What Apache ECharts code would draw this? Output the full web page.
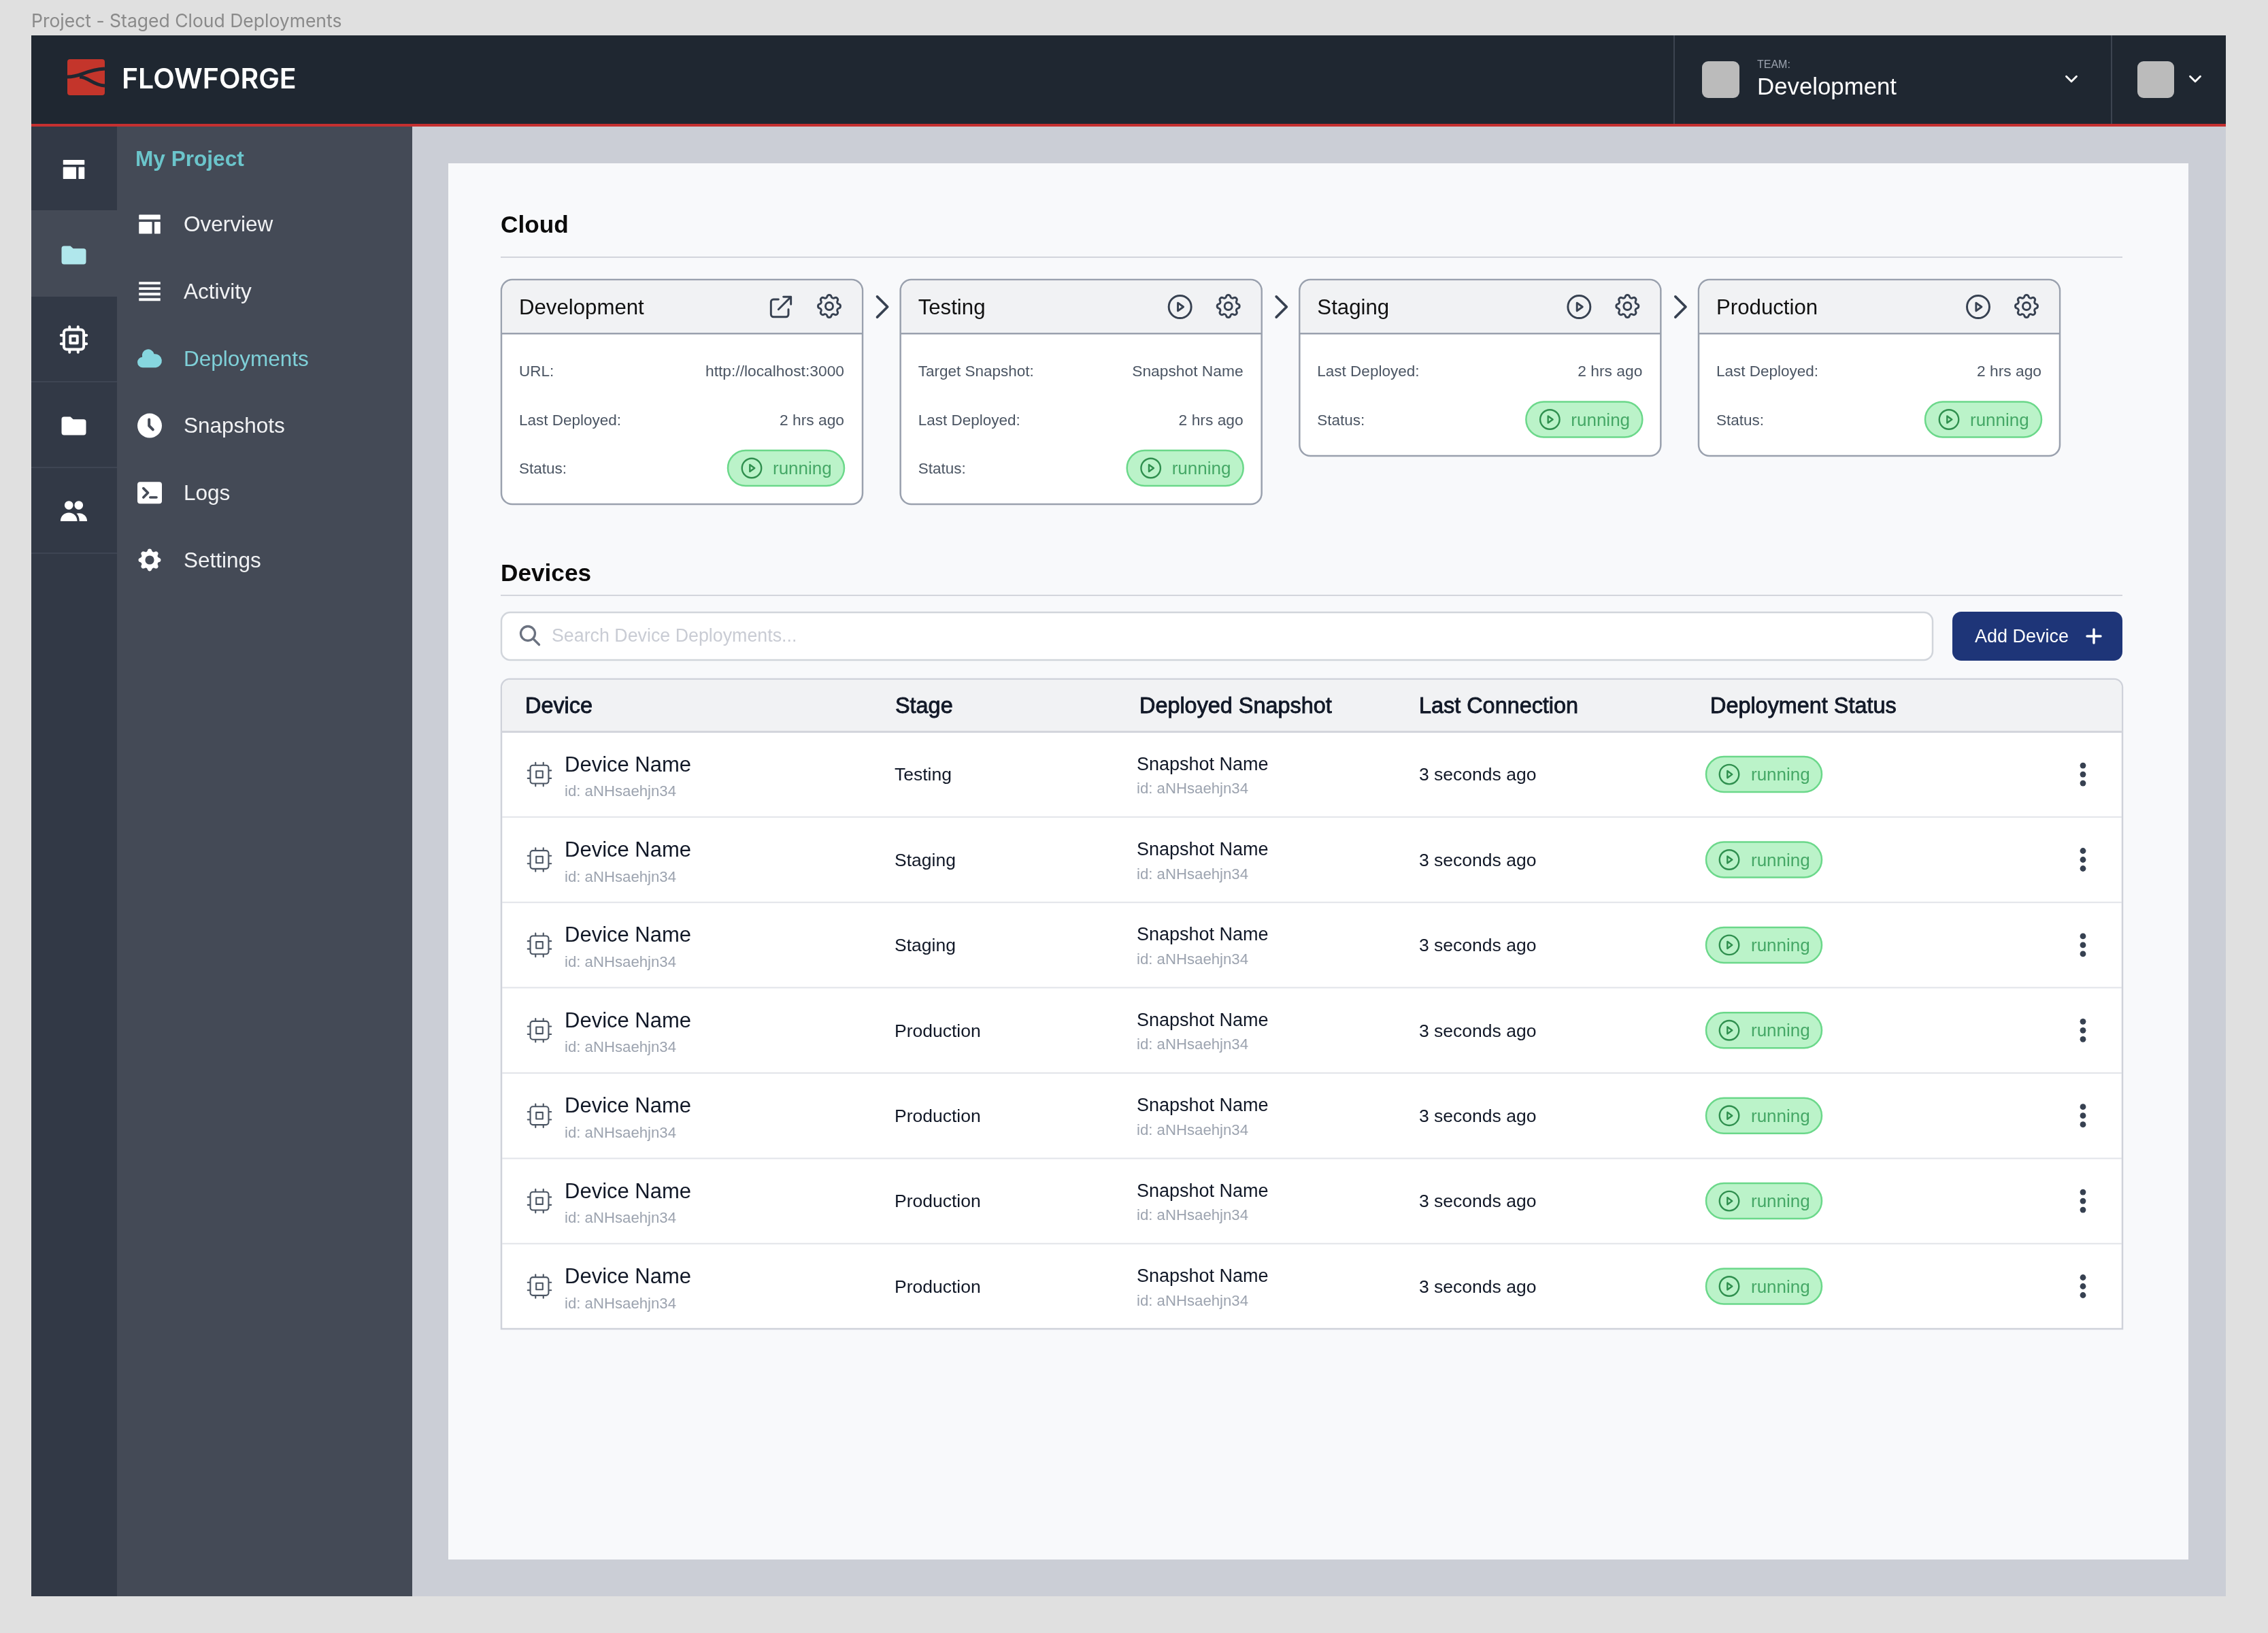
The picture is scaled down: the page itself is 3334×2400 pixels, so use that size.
<!DOCTYPE html>
<html>
<head>
<meta charset="utf-8">
<title>FlowForge - Staged Cloud Deployments</title>
<script src="https://cdn.jsdelivr.net/npm/echarts@6/dist/echarts.min.js"></script>
<style>
  html, body { margin: 0; padding: 0; background: #e0e0e0; }
  #main { width: 3334px; height: 2400px; }
</style>
</head>
<body>
<div id="main"></div>
<script>
// text content
var pageTitle = 'Project - Staged Cloud Deployments';
var brandName = 'FLOWFORGE';
var projectName = 'My Project';
var teamLabel = 'TEAM:';
var teamName = 'Development';
var navItems = ['Overview', 'Activity', 'Deployments', 'Snapshots', 'Logs', 'Settings'];
var navIcons = ['template', 'activity', 'cloud', 'clock', 'terminal', 'cog'];
var railIcons = ['template', 'folder', 'chip', 'folder', 'users'];

var stageNames = ['Development', 'Testing', 'Staging', 'Production'];
var stageActions = ['external', 'play', 'play', 'play'];
var stageRowLabels = [
    ['URL:', 'Last Deployed:', 'Status:'],
    ['Target Snapshot:', 'Last Deployed:', 'Status:'],
    ['Last Deployed:', 'Status:'],
    ['Last Deployed:', 'Status:']
];
var stageRowValues = [
    ['http://localhost:3000', '2 hrs ago', 'running'],
    ['Snapshot Name', '2 hrs ago', 'running'],
    ['2 hrs ago', 'running'],
    ['2 hrs ago', 'running']
];

var tableColumns = ['Device', 'Stage', 'Deployed Snapshot', 'Last Connection', 'Deployment Status'];
var deviceNames = ['Device Name', 'Device Name', 'Device Name', 'Device Name', 'Device Name', 'Device Name', 'Device Name'];
var deviceIds = ['id: aNHsaehjn34', 'id: aNHsaehjn34', 'id: aNHsaehjn34', 'id: aNHsaehjn34', 'id: aNHsaehjn34', 'id: aNHsaehjn34', 'id: aNHsaehjn34'];
var deviceStages = ['Testing', 'Staging', 'Staging', 'Production', 'Production', 'Production', 'Production'];
var deviceSnapshots = ['Snapshot Name', 'Snapshot Name', 'Snapshot Name', 'Snapshot Name', 'Snapshot Name', 'Snapshot Name', 'Snapshot Name'];
var snapshotIds = ['id: aNHsaehjn34', 'id: aNHsaehjn34', 'id: aNHsaehjn34', 'id: aNHsaehjn34', 'id: aNHsaehjn34', 'id: aNHsaehjn34', 'id: aNHsaehjn34'];
var deviceConnections = ['3 seconds ago', '3 seconds ago', '3 seconds ago', '3 seconds ago', '3 seconds ago', '3 seconds ago', '3 seconds ago'];
var deviceStatuses = ['running', 'running', 'running', 'running', 'running', 'running', 'running'];

var FONT = '"Liberation Sans"';
var NAV_BG = '#444a56';
var RAIL_BG = '#323946';
var HEAD_BG = '#1f2731';

// icon outlines, 24 unit box (zrender wants arc flags spaced out)
var COG = 'M10.325 4.317c.426-1.756 2.924-1.756 3.35 0a1.724 1.724 0 0 0 2.573 1.066c1.543-.94 3.31.826 2.37 2.37a1.724 1.724 0 0 0 1.065 2.572c1.756.426 1.756 2.924 0 3.35a1.724 1.724 0 0 0-1.066 2.573c.94 1.543-.826 3.31-2.37 2.37a1.724 1.724 0 0 0-2.572 1.065c-.426 1.756-2.924 1.756-3.35 0a1.724 1.724 0 0 0-2.573-1.066c-1.543.94-3.31-.826-2.37-2.37a1.724 1.724 0 0 0-1.065-2.572c-1.756-.426-1.756-2.924 0-3.35a1.724 1.724 0 0 0 1.066-2.573c-.94-1.543.826-3.31 2.37-2.37.996.608 2.296.07 2.572-1.065z';
var RING = 'M21 12a9 9 0 1 1-18 0 9 9 0 0 1 18 0z';
var CHIP = 'M7 5h10a2 2 0 0 1 2 2v10a2 2 0 0 1-2 2H7a2 2 0 0 1-2-2V7a2 2 0 0 1 2-2zM9.5 9.5h5v5h-5zM9 3v2M15 3v2M9 19v2M15 19v2M3 9h2M3 15h2M19 9h2M19 15h2';
var TEMPLATE = 'M3.5 4h17a.5.5 0 0 1 .5.5v3a.5.5 0 0 1-.5.5h-17a.5.5 0 0 1-.5-.5v-3a.5.5 0 0 1 .5-.5zM3.5 10h10a.5.5 0 0 1 .5.5v9a.5.5 0 0 1-.5.5h-10a.5.5 0 0 1-.5-.5v-9a.5.5 0 0 1 .5-.5zM16.5 10h4a.5.5 0 0 1 .5.5v9a.5.5 0 0 1-.5.5h-4a.5.5 0 0 1-.5-.5v-9a.5.5 0 0 1 .5-.5z';
var FOLDER = 'M2 7a2 2 0 0 1 2-2h5.2l2.3 2.2H20a2 2 0 0 1 2 2V18a2 2 0 0 1-2 2H4a2 2 0 0 1-2-2z';
var ACTIVITY = 'M3 4h18v2.2H3zM3 8.6h18v2.2H3zM3 13.2h18v2.2H3zM3 17.8h18v2.2H3z';
var CLOUD = 'M6.6 19.2a4.2 4.2 0 0 1-.44-8.38 4.8 4.8 0 1 1 9.3-2.37A5.4 5.4 0 1 1 16.2 19.2h-9.6z';
var USERS_A = 'M11.5 7.5a3.4 3.4 0 1 1-6.8 0 3.4 3.4 0 0 1 6.8 0zM19.3 7.5a3.4 3.4 0 1 1-6.8 0 3.4 3.4 0 0 1 6.8 0zM1.5 20c0-3.8 2.9-6.6 6.6-6.6s6.6 2.8 6.6 6.6zM16.4 20c0-2.6-.8-4.7-2.3-6 .6-.2 1.2-.3 1.9-.3 3.7 0 6.5 2.6 6.5 6.3z';

function icon(path, cx, cy, size, style) {
    var k = size / 24;
    return {
        type: 'path',
        shape: { pathData: path },
        x: cx - size / 2,
        y: cy - size / 2,
        scaleX: k,
        scaleY: k,
        style: style
    };
}
function fillIcon(path, cx, cy, size, color) {
    return icon(path, cx, cy, size, { fill: color });
}
function lineIcon(path, cx, cy, size, color, width) {
    return icon(path, cx, cy, size, { fill: 'none', stroke: color, lineWidth: width, lineCap: 'round', lineJoin: 'round' });
}
function label(text, x, y, size, color, weight, align, family) {
    return {
        type: 'text',
        style: {
            text: text, x: x, y: y,
            fontFamily: family || FONT, fontSize: size, fontWeight: weight || 400,
            fill: color, align: align || 'left', verticalAlign: 'middle'
        }
    };
}
// the column heads sit between regular and bold, so thicken the regular cut a little
function mediumLabel(text, x, y, size, color) {
    var el = label(text, x, y, size, color);
    el.style.stroke = color;
    el.style.lineWidth = 0.9;
    return el;
}
function box(x, y, w, h, fill, r, stroke, lw) {
    return {
        type: 'rect',
        shape: { x: x, y: y, width: w, height: h, r: r || 0 },
        style: { fill: fill, stroke: stroke || null, lineWidth: lw || 0 }
    };
}
function stroke(x1, y1, x2, y2, color, lw) {
    return {
        type: 'line',
        shape: { x1: x1, y1: y1, x2: x2, y2: y2 },
        style: { stroke: color, lineWidth: lw || 2 }
    };
}

function namedIcon(name, cx, cy, size, color, bg) {
    if (name === 'template') return [fillIcon(TEMPLATE, cx, cy, size * 1.05, color)];
    if (name === 'folder') return [fillIcon(FOLDER, cx, cy, size * 1.08, color)];
    if (name === 'activity') return [fillIcon(ACTIVITY, cx, cy, size * 1.05, color)];
    if (name === 'cloud') return [fillIcon(CLOUD, cx, cy, size * 1.12, color)];
    if (name === 'users') return [fillIcon(USERS_A, cx, cy, size * 1.12, color)];
    if (name === 'chip') return [lineIcon(CHIP, cx, cy, size * 1.25, color, 1.9)];
    if (name === 'clock') {
        return [
            fillIcon(RING, cx, cy, size * 1.2, color),
            lineIcon('M11.5 6.5v5.6l3.4 3.4', cx, cy, size, bg, 2.4)
        ];
    }
    if (name === 'terminal') {
        return [
            box(cx - 18, cy - 16, 36, 32, color, 4),
            lineIcon('M6.5 8l4 4-4 4M12.5 16h5.5', cx, cy, size, bg, 2.2)
        ];
    }
    if (name === 'cog') {
        return [
            fillIcon(COG, cx, cy, size * 1.1, color),
            fillIcon('M15.6 12a3.6 3.6 0 1 1-7.2 0 3.6 3.6 0 0 1 7.2 0z', cx, cy, size * 1.1, bg)
        ];
    }
    return [];
}

function runningBadge(x, y, w, h, playX, textX, fontSize) {
    return [
        box(x, y, w, h, '#bbf3c9', h / 2, '#6bd88a', 2.5),
        lineIcon(RING, playX, y + h / 2, 38, '#2f8f4e', 1.5),
        lineIcon('M10.3 8.8l4.4 3.2-4.4 3.2z', playX, y + h / 2, 38, '#2f8f4e', 1.5),
        label('running', textX, y + h / 2 + 2, fontSize, '#45a866')
    ];
}

// page chrome
function buildChrome() {
    var els = [
        box(0, 0, 3334, 2400, '#e0e0e0'),
        label(pageTitle, 46, 32, 26.5, '#8a8a8a', 400, 'left', 'Inter'),
        box(46, 52, 3226, 2294, '#cbced6'),
        box(46, 52, 3226, 130, HEAD_BG),
        box(46, 182, 3226, 4, '#c53030'),
        box(46, 186, 126, 2160, RAIL_BG),
        box(172, 186, 434, 2160, NAV_BG),
        box(46, 309, 126, 127, NAV_BG),
        box(46, 560, 126, 2, '#3e4553'),
        box(46, 686, 126, 2, '#3e4553'),
        box(46, 812, 126, 2, '#3e4553'),
        box(659, 240, 2558, 2052, '#f8f9fb'),

        // logo
        box(99, 87, 55, 53, '#c4352b', 4),
        {
            type: 'path',
            shape: { pathData: 'M99 113C120 113 124 103 154 101M117 113C130 113 136 125 154 126' },
            style: { fill: 'none', stroke: HEAD_BG, lineWidth: 5 }
        },
        label(brandName, 179, 118, 41, '#ffffff', 600, 'left', 'Inter'),

        // team and user switchers
        stroke(2461, 52, 2461, 182, '#3c4450', 2),
        stroke(3104, 52, 3104, 182, '#3c4450', 2),
        box(2502, 90, 55, 54, '#bbbbbb', 9),
        box(3142, 90, 54, 54, '#bbbbbb', 9),
        label(teamLabel, 2583, 96, 16, '#9ca3af'),
        label(teamName, 2583, 129, 34.8, '#ffffff'),
        lineIcon('M6 9l6 6 6-6', 3045, 116, 30, '#ffffff', 2.3),
        lineIcon('M6 9l6 6 6-6', 3227, 116, 30, '#ffffff', 2.3),

        // side navigation
        label(projectName, 199, 235, 31.6, '#6bc5cb', 700),

        // section headers
        label('Cloud', 736, 332, 35.2, '#0b0b0b', 700),
        box(736, 377, 2384, 2, '#d3d5dc'),
        label('Devices', 736, 844, 35.2, '#0b0b0b', 700),
        box(736, 874, 2384, 2, '#d3d5dc'),

        // search and add
        box(737, 900, 2104, 70, '#ffffff', 13, '#d1d5db', 2.5),
        lineIcon('M21 21l-6-6M17 10a7 7 0 1 1-14 0 7 7 0 0 1 14 0z', 779, 934, 36, '#6b7280', 2.2),
        label('Search Device Deployments...', 811, 936, 26.8, '#c9ccd4'),
        box(2870, 899, 250, 72, '#1e3578', 13),
        label('Add Device', 2903, 937, 27, '#ffffff'),
        lineIcon('M12 4v16M4 12h16', 3078, 935, 30, '#ffffff', 2.8),

        // table frame and header
        box(737, 998, 2383, 955, '#ffffff', [12, 12, 0, 0], '#cfd2da', 2.5),
        box(738, 999, 2381, 76, '#f1f2f4', [12, 12, 0, 0]),
        box(737, 1074, 2383, 3, '#d3d5dc')
    ];

    var railY = [249, 374, 499, 625, 751];
    railIcons.forEach(function (name, i) {
        var color = i === 1 ? '#b0e7ec' : '#ffffff';
        var bg = i === 1 ? NAV_BG : RAIL_BG;
        els = els.concat(namedIcon(name, 108.5, railY[i], 40, color, bg));
    });
    navItems.forEach(function (name, i) {
        var y = 329.5 + i * 98.7;
        var color = name === 'Deployments' ? '#86d6df' : '#ffffff';
        els = els.concat(namedIcon(navIcons[i], 220, y, 40, color, NAV_BG));
        els.push(label(name, 270, y + 2, 31.5, name === 'Deployments' ? '#7fd0d8' : '#f1f2f4'));
    });

    var headerX = [772, 1316, 1675, 2086, 2514];
    tableColumns.forEach(function (name, i) {
        els.push(mediumLabel(name, headerX[i], 1039, 32.4, '#111827'));
    });
    return els;
}

function renderChrome() {
    return { type: 'group', children: buildChrome() };
}

// one card per stage, placed by the stage axis
function renderStageCard(params, api) {
    var i = params.dataIndex;
    var cx = api.coord([i, 0])[0];
    var left = cx - 265.5;
    var top = 411;
    var rows = stageRowLabels[i];
    var bottom = rows.length === 3 ? 741 : 670;
    var right = left + 531;
    var kids = [
        box(left, top, 531, bottom - top, '#ffffff', 16, '#9aa1ae', 2.5),
        {
            type: 'rect',
            shape: { x: left + 1.5, y: top + 1.5, width: 528, height: 77, r: [15, 15, 0, 0] },
            style: { fill: '#f1f2f4' }
        },
        box(left, 489, 531, 2.5, '#9aa1ae'),
        label(stageNames[i], left + 26, 453, 31.2, '#111111')
    ];
    if (stageActions[i] === 'external') {
        kids.push(lineIcon('M10 6H6a2 2 0 0 0-2 2v10a2 2 0 0 0 2 2h10a2 2 0 0 0 2-2v-4M14 4h6m0 0v6m0-6L10 14', left + 411, 451, 44, '#374151', 1.6));
    } else {
        kids.push(lineIcon(RING, left + 411, 451, 44, '#374151', 1.6));
        kids.push(lineIcon('M10.3 8.8l4.4 3.2-4.4 3.2z', left + 411, 451, 44, '#374151', 1.6));
    }
    kids.push(lineIcon(COG, left + 482, 450, 44, '#374151', 1.6));
    kids.push(lineIcon('M15 12a3 3 0 1 1-6 0 3 3 0 0 1 6 0z', left + 482, 450, 44, '#374151', 1.6));
    if (i < stageNames.length - 1) {
        kids.push(lineIcon('M9 5l7 7-7 7', right + 28, 451, 52, '#374151', 1.7));
    }
    rows.forEach(function (text, r) {
        var y = 546 + r * 71.5;
        kids.push(label(text, left + 26, y + 1, 22.5, '#4b5563'));
        if (stageRowValues[i][r] === 'running') {
            kids = kids.concat(runningBadge(right - 198, y - 27, 171, 52, right - 163, right - 132, 26));
        } else {
            kids.push(label(stageRowValues[i][r], right - 27, y + 1, 22.8, '#4b5563', 400, 'right'));
        }
    });
    return { type: 'group', children: kids };
}

// one table row per device, placed by the device axis
function renderDeviceRow(params, api) {
    var i = params.dataIndex;
    var cy = api.coord([0, i])[1];
    var rowH = api.size([0, 1])[1];
    var kids = [
        lineIcon(CHIP, 793, cy, 46, '#4b5563', 1.1),
        label(deviceNames[i], 830, cy - 13, 31, '#111827'),
        label(deviceIds[i], 830, cy + 26, 22.2, '#9ca3af'),
        label(deviceStages[i], 1315, cy + 2, 26.5, '#111827'),
        label(deviceSnapshots[i], 1671, cy - 14, 27, '#111827'),
        label(snapshotIds[i], 1671, cy + 22, 22.2, '#9ca3af'),
        label(deviceConnections[i], 2086, cy + 2, 26.5, '#111827')
    ].concat(
        runningBadge(2508, cy - 26, 170, 52, 2542, 2574, 26)
    );
    [-13, 0, 13].forEach(function (d) {
        kids.push({
            type: 'circle',
            shape: { cx: 3062, cy: cy + d, r: 4.4 },
            style: { fill: '#374151' }
        });
    });
    if (i < deviceNames.length - 1) {
        kids.push(box(738, cy + rowH / 2 - 1, 2381, 2, '#e2e4e9'));
    }
    return { type: 'group', children: kids };
}

var chart = echarts.init(document.getElementById('main'), null, { width: 3334, height: 2400 });
chart.setOption({
    animation: false,
    backgroundColor: '#e0e0e0',
    grid: [
        { left: 709.16, top: 411, width: 2346.68, height: 330 },
        { left: 737, top: 1075.4, width: 2383, height: 877.8 }
    ],
    xAxis: [
        { type: 'category', data: stageNames, gridIndex: 0, show: false },
        { type: 'value', min: 0, max: 1, gridIndex: 1, show: false }
    ],
    yAxis: [
        { type: 'value', min: 0, max: 1, gridIndex: 0, show: false },
        { type: 'category', data: deviceNames.map(function (n, i) { return i; }), inverse: true, gridIndex: 1, show: false }
    ],
    series: [
        {
            type: 'custom',
            coordinateSystem: 'none',
            z: 1,
            silent: true,
            data: [[0]],
            renderItem: renderChrome
        },
        {
            type: 'custom',
            xAxisIndex: 0,
            yAxisIndex: 0,
            z: 2,
            silent: true,
            clip: false,
            data: stageNames.map(function (n, i) { return [i, 0]; }),
            renderItem: renderStageCard
        },
        {
            type: 'custom',
            xAxisIndex: 1,
            yAxisIndex: 1,
            z: 2,
            silent: true,
            clip: false,
            data: deviceNames.map(function (n, i) { return [0, i]; }),
            renderItem: renderDeviceRow
        }
    ]
});
</script>
</body>
</html>
